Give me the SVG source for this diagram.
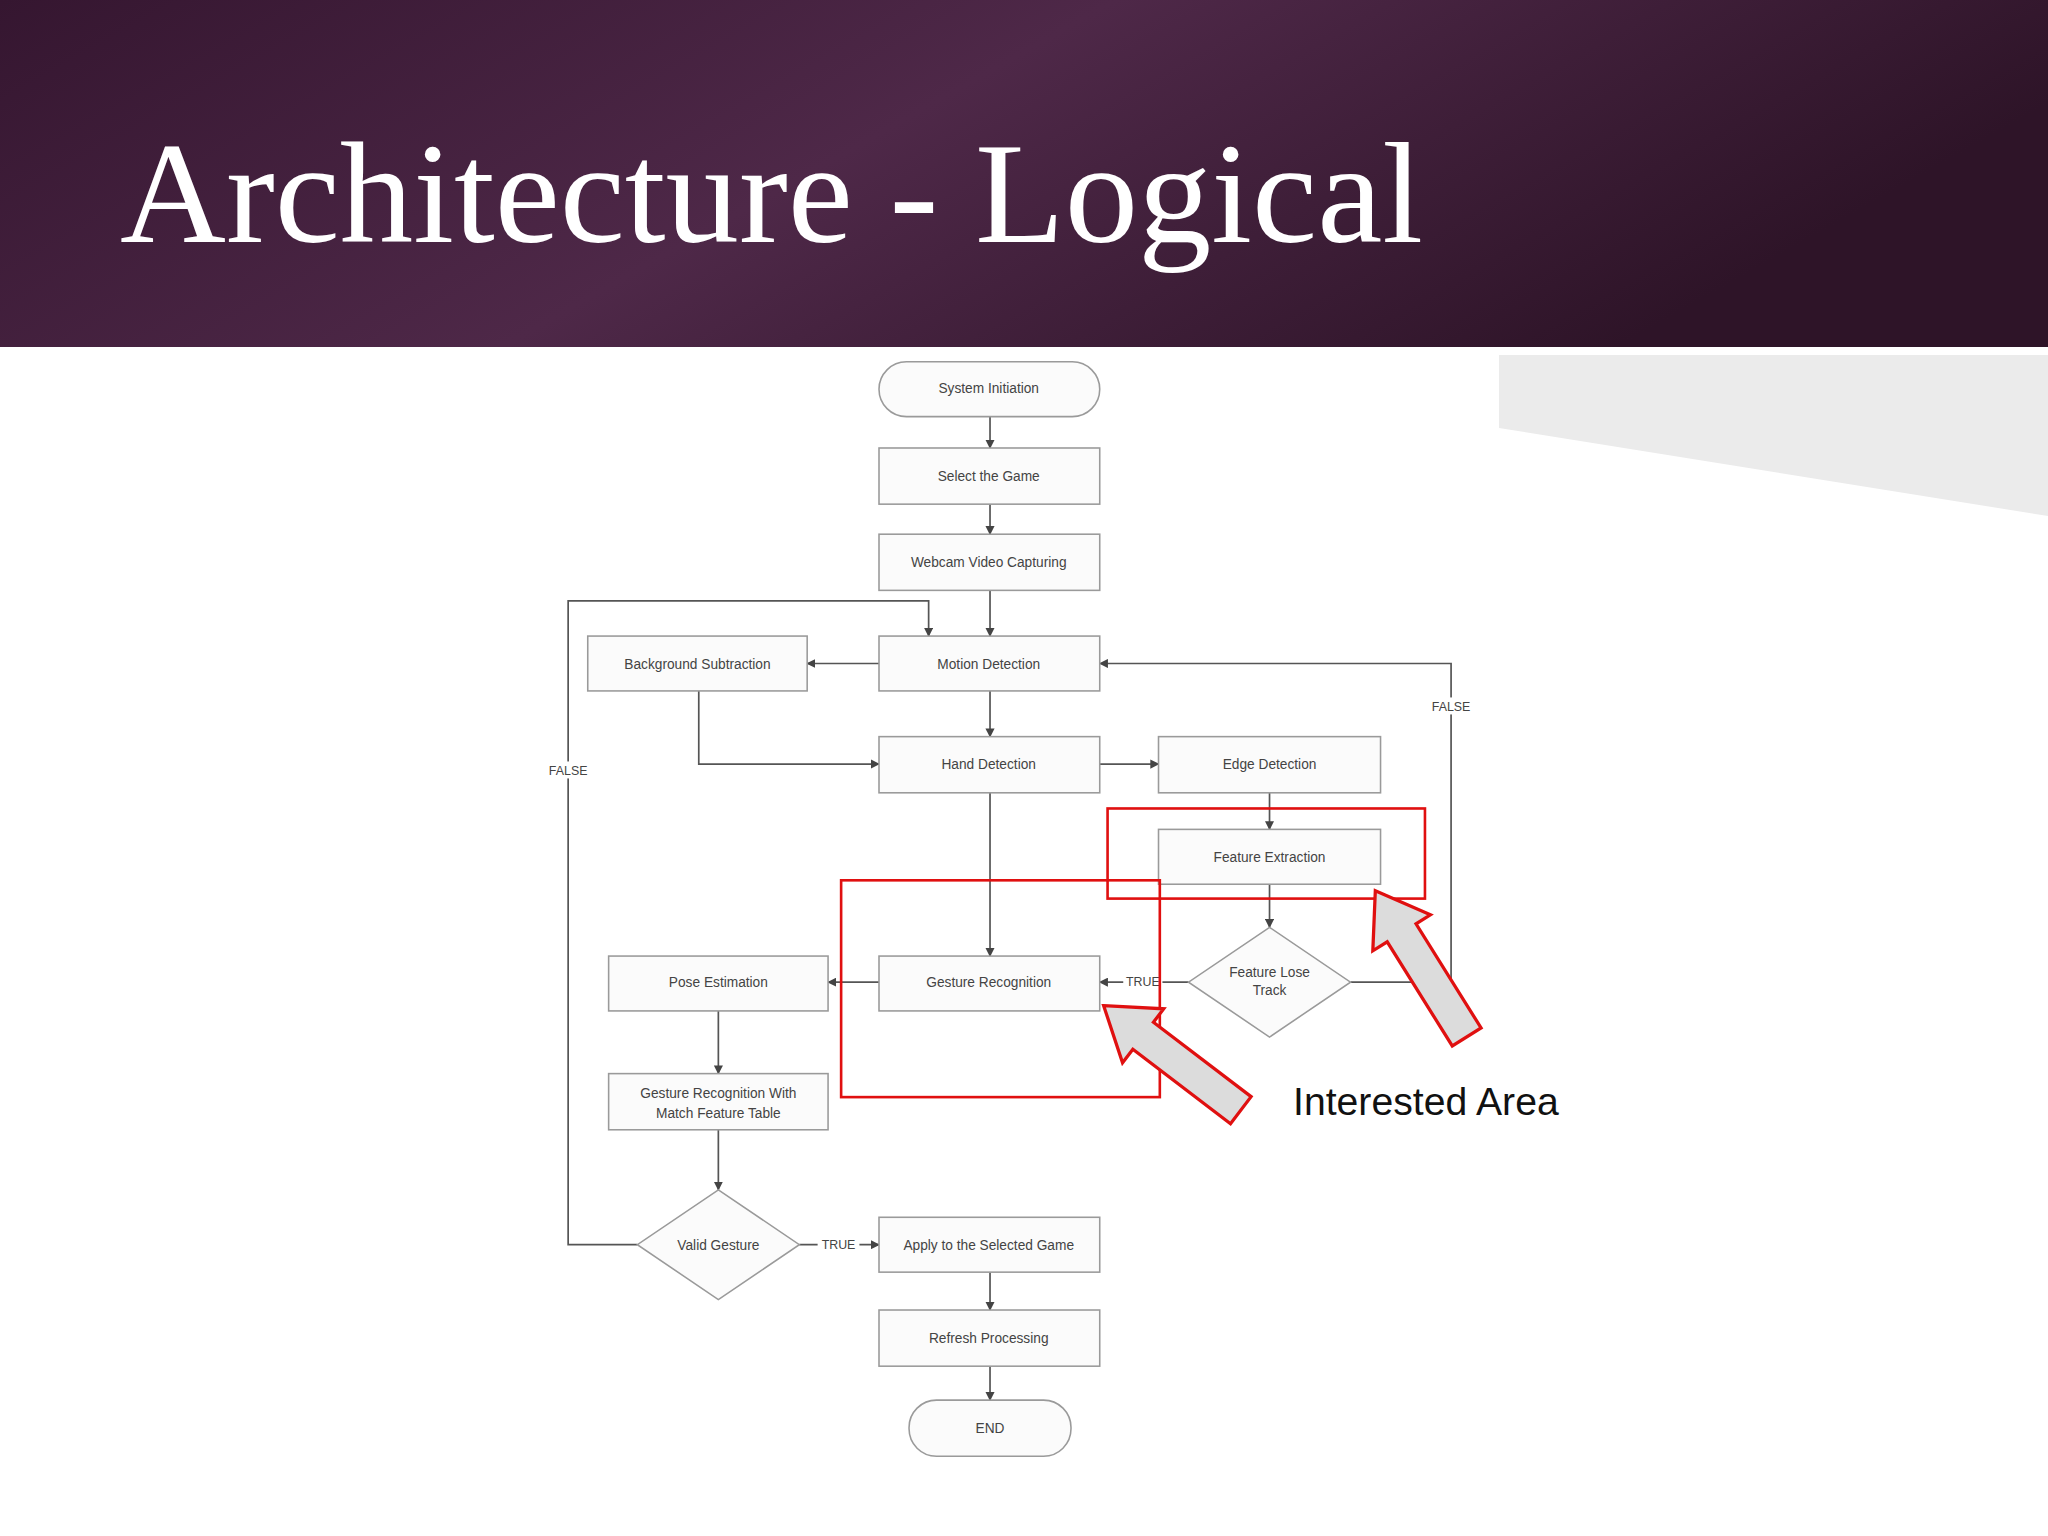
<svg xmlns="http://www.w3.org/2000/svg" width="2048" height="1536" viewBox="0 0 2048 1536">
<defs>
<linearGradient id="hdr" x1="0" y1="0" x2="1" y2="0.3">
<stop offset="0" stop-color="#351630"/><stop offset="0.5" stop-color="#4e2848"/><stop offset="1" stop-color="#2e1428"/>
</linearGradient>
<marker id="ah" viewBox="0 0 10 10" refX="9" refY="5" markerWidth="7" markerHeight="7" orient="auto" markerUnits="userSpaceOnUse"><path d="M0,0 L10,5 L0,10 z" fill="#444"/></marker>
<style>
.n{fill:#fbfbfb;stroke:#9a9a9a;stroke-width:1.2}
.t{font-family:"Liberation Sans",Arial,sans-serif;font-size:10.5px;fill:#444;text-anchor:middle}
.c{fill:none;stroke:#555;stroke-width:1.3}
.ca{fill:none;stroke:#555;stroke-width:1.3;marker-end:url(#ah)}
.lbl{font-family:"Liberation Sans",Arial,sans-serif;font-size:9.5px;fill:#444;text-anchor:middle}
.red{fill:none;stroke:#e01010;stroke-width:2}
.ba{fill:#dcdcdc;stroke:#e01010;stroke-width:2.5}
</style>
</defs>
<rect width="2048" height="1536" fill="#ffffff"/>
<rect width="2048" height="347" fill="url(#hdr)"/>
<text x="120" y="242" font-family="Liberation Serif,serif" font-size="145" fill="#ffffff" textLength="1303" lengthAdjust="spacingAndGlyphs">Architecture - Logical</text>
<polygon points="1499,355 2048,355 2048,516 1499,428" fill="#ebebeb"/>
<g transform="scale(1.3061)">
<g id="connectors">
<path class="ca" d="M758,319 V343"/>
<path class="ca" d="M758,386 V409"/>
<path class="ca" d="M758,452 V487"/>
<path class="ca" d="M488,953 H435 V460 H711 V487"/>
<rect x="415" y="583" width="40" height="13" fill="#fff"/>
<text class="lbl" x="435" y="593">FALSE</text>
<path class="ca" d="M673,508 H618"/>
<path class="ca" d="M535,529 V585 H673"/>
<path class="ca" d="M758,529 V564"/>
<path class="ca" d="M842,585 H887"/>
<path class="ca" d="M972,607 V635"/>
<path class="ca" d="M972,677 V710"/>
<path class="ca" d="M1034,752 H1111 V508 H842"/>
<rect x="1091" y="534" width="40" height="13" fill="#fff"/>
<text class="lbl" x="1111" y="544">FALSE</text>
<path class="ca" d="M910,752 H842"/>
<rect x="860" y="745" width="30" height="13" fill="#fff"/>
<text class="lbl" x="875" y="755">TRUE</text>
<path class="ca" d="M758,607 V732"/>
<path class="ca" d="M673,752 H634"/>
<path class="ca" d="M550,774 V822"/>
<path class="ca" d="M550,865 V911"/>
<path class="ca" d="M612,953 H673"/>
<rect x="626" y="946" width="32" height="13" fill="#fff"/>
<text class="lbl" x="642" y="956">TRUE</text>
<path class="ca" d="M758,974 V1003"/>
<path class="ca" d="M758,1046 V1072"/>
</g>
<g id="sys"><rect class="n" x="673" y="277" width="169" height="42" rx="21"/><text class="t" x="757" y="301">System Initiation</text></g>
<g id="select"><rect class="n" x="673" y="343" width="169" height="43"/><text class="t" x="757" y="368">Select the Game</text></g>
<g id="webcam"><rect class="n" x="673" y="409" width="169" height="43"/><text class="t" x="757" y="434">Webcam Video Capturing</text></g>
<g id="motion"><rect class="n" x="673" y="487" width="169" height="42"/><text class="t" x="757" y="512">Motion Detection</text></g>
<g id="bg"><rect class="n" x="450" y="487" width="168" height="42"/><text class="t" x="534" y="512">Background Subtraction</text></g>
<g id="hand"><rect class="n" x="673" y="564" width="169" height="43"/><text class="t" x="757" y="589">Hand Detection</text></g>
<g id="edge"><rect class="n" x="887" y="564" width="170" height="43"/><text class="t" x="972" y="589">Edge Detection</text></g>
<g id="feat"><rect class="n" x="887" y="635" width="170" height="42"/><text class="t" x="972" y="660">Feature Extraction</text></g>
<g id="lose"><polygon class="n" points="972,710 1034,752 972,794 910,752"/><text class="t" x="972" y="748">Feature Lose</text><text class="t" x="972" y="762">Track</text></g>
<g id="gest"><rect class="n" x="673" y="732" width="169" height="42"/><text class="t" x="757" y="756">Gesture Recognition</text></g>
<g id="pose"><rect class="n" x="466" y="732" width="168" height="42"/><text class="t" x="550" y="756">Pose Estimation</text></g>
<g id="gmatch"><rect class="n" x="466" y="822" width="168" height="43"/><text class="t" x="550" y="841">Gesture Recognition With</text><text class="t" x="550" y="856">Match Feature Table</text></g>
<g id="valid"><polygon class="n" points="550,911 612,953 550,995 488,953"/><text class="t" x="550" y="957">Valid Gesture</text></g>
<g id="apply"><rect class="n" x="673" y="932" width="169" height="42"/><text class="t" x="757" y="957">Apply to the Selected Game</text></g>
<g id="refresh"><rect class="n" x="673" y="1003" width="169" height="43"/><text class="t" x="757" y="1028">Refresh Processing</text></g>
<g id="end"><rect class="n" x="696" y="1072" width="124" height="43" rx="21"/><text class="t" x="758" y="1097">END</text></g>
<rect class="red" x="848" y="619" width="243" height="69"/>
<rect class="red" x="644" y="674" width="244" height="166"/>
<polygon class="ba" transform="translate(845,770) rotate(37.3)" points="0,0 38,-26 38,-13 132,-13 132,13 38,13 38,26"/>
<polygon class="ba" transform="translate(1053,682) rotate(58)" points="0,0 38,-26 38,-13 132,-13 132,13 38,13 38,26"/>
<text x="990" y="854" font-family="Liberation Sans,Arial,sans-serif" font-size="30" fill="#111">Interested Area</text>
</g>
</svg>
